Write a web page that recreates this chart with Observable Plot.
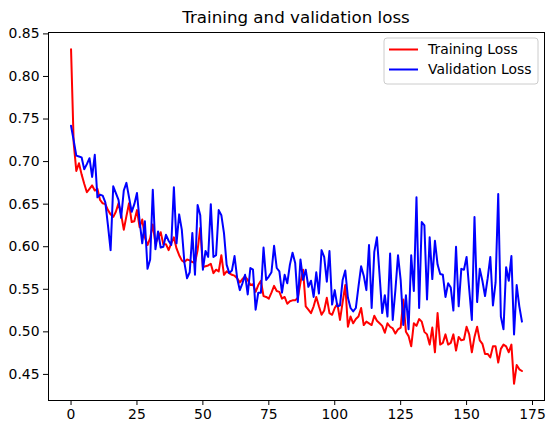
<!DOCTYPE html>
<html><head><meta charset="utf-8">
<script src="https://cdn.jsdelivr.net/npm/d3@7"></script>
<script src="https://cdn.jsdelivr.net/npm/@observablehq/plot@0.6"></script>
<style>body{margin:0;background:#fff} svg{display:block}</style>
</head><body><div id="chart"></div>
<script>
const title = "Training and validation loss";
const seriesNames = ["Training Loss", "Validation Loss"];
const seriesColors = ["red", "blue"];
const trainLoss = [
0.832,0.722,0.689,0.698,0.685,0.674,0.664,0.668,0.672,0.666,
0.668,0.655,0.651,0.650,0.643,0.638,0.635,0.641,0.651,0.638,
0.620,0.636,0.651,0.629,0.630,0.643,0.623,0.632,0.611,0.602,
0.610,0.626,0.604,0.610,0.617,0.603,0.603,0.596,0.604,0.611,
0.598,0.590,0.584,0.582,0.585,0.584,0.582,0.581,0.596,0.622,
0.576,0.577,0.578,0.580,0.569,0.573,0.571,0.590,0.567,0.571,
0.569,0.567,0.566,0.563,0.558,0.562,0.565,0.561,0.555,0.556,
0.547,0.555,0.560,0.542,0.541,0.539,0.546,0.554,0.548,0.547,
0.539,0.541,0.533,0.536,0.537,0.537,0.540,0.558,0.573,0.530,
0.526,0.522,0.530,0.541,0.530,0.520,0.525,0.540,0.522,0.520,
0.528,0.533,0.514,0.535,0.555,0.506,0.518,0.510,0.515,0.518,
0.528,0.508,0.512,0.510,0.508,0.519,0.513,0.510,0.507,0.499,
0.510,0.506,0.504,0.498,0.503,0.505,0.538,0.500,0.495,0.483,
0.510,0.507,0.515,0.512,0.500,0.497,0.485,0.505,0.476,0.522,
0.485,0.487,0.497,0.485,0.487,0.497,0.478,0.494,0.490,0.491,
0.506,0.497,0.476,0.494,0.506,0.490,0.486,0.474,0.474,0.470,
0.483,0.483,0.464,0.480,0.485,0.483,0.476,0.485,0.439,0.461,
0.456,0.454];
const valLoss = [
0.742,0.725,0.707,0.706,0.705,0.691,0.697,0.704,0.682,0.708,
0.658,0.661,0.660,0.652,0.625,0.596,0.671,0.663,0.655,0.634,
0.666,0.675,0.658,0.641,0.650,0.663,0.630,0.604,0.630,0.574,
0.585,0.667,0.597,0.618,0.599,0.600,0.614,0.607,0.602,0.670,
0.604,0.638,0.620,0.581,0.563,0.570,0.616,0.567,0.649,0.637,
0.573,0.595,0.588,0.650,0.588,0.590,0.643,0.637,0.616,0.579,
0.569,0.572,0.589,0.563,0.549,0.557,0.567,0.544,0.575,0.573,
0.526,0.546,0.546,0.599,0.561,0.565,0.570,0.601,0.575,0.571,
0.546,0.567,0.557,0.579,0.593,0.581,0.535,0.585,0.561,0.573,
0.553,0.560,0.541,0.570,0.545,0.596,0.588,0.559,0.595,0.532,
0.549,0.530,0.531,0.561,0.572,0.540,0.528,0.524,0.528,0.553,
0.577,0.566,0.549,0.602,0.528,0.594,0.611,0.567,0.522,0.543,
0.518,0.592,0.514,0.549,0.590,0.561,0.508,0.543,0.503,0.590,
0.548,0.658,0.528,0.629,0.625,0.538,0.611,0.562,0.607,0.579,
0.568,0.567,0.541,0.557,0.552,0.525,0.600,0.530,0.574,0.573,
0.588,0.550,0.514,0.635,0.535,0.574,0.560,0.542,0.563,0.588,
0.531,0.558,0.662,0.518,0.503,0.576,0.560,0.589,0.497,0.555,
0.530,0.512];
const xTicks = [0, 25, 50, 75, 100, 125, 150, 175];
const yTicks = [0.45, 0.50, 0.55, 0.60, 0.65, 0.70, 0.75, 0.80, 0.85];

const epochs = d3.range(trainLoss.length);
const rows = [];
seriesNames.forEach((name, s) => {
  const vals = s === 0 ? trainLoss : valLoss;
  epochs.forEach(i => rows.push({epoch: i, loss: vals[i], series: name}));
});
const xmax = epochs.length - 1;
const xpad = xmax * 0.05;
const all = trainLoss.concat(valLoss);
const ymin = d3.min(all), ymax = d3.max(all);
const ypad = (ymax - ymin) * 0.05;

const W = 554, H = 433, mL = 48, mR = 10, mT = 32, mB = 33;
const font = "'DejaVu Sans', sans-serif";

const plot = Plot.plot({
  width: W, height: H,
  marginLeft: mL, marginRight: mR, marginTop: mT, marginBottom: mB,
  style: {fontFamily: font, fontSize: "13.9px", color: "black", background: "white"},
  x: {domain: [-xpad, xmax + xpad]},
  y: {domain: [ymin - ypad, ymax + ypad]},
  color: {domain: seriesNames, range: seriesColors},
  marks: [
    Plot.axisX({ticks: xTicks, tickSize: 5, tickPadding: 4, label: null, tickFormat: d => String(d), stroke: "black"}),
    Plot.axisY({ticks: yTicks, tickSize: 5, tickPadding: 4, label: null, tickFormat: d3.format(".2f"), stroke: "black"}),
    Plot.line(rows, {x: "epoch", y: "loss", z: "series", stroke: "series", strokeWidth: 2}),
    Plot.frame({stroke: "black", strokeWidth: 1})
  ]
});
document.getElementById("chart").appendChild(plot);

const svg = d3.select(plot);
// title
svg.append("text")
  .attr("x", (mL + W - mR) / 2).attr("y", 23)
  .attr("text-anchor", "middle")
  .attr("font-family", font).attr("font-size", "16.7px").attr("fill", "black")
  .text(title);
// legend
const lg = svg.append("g").attr("transform", "translate(384,38)");
lg.append("rect").attr("width", 154).attr("height", 46).attr("rx", 3)
  .attr("fill", "white").attr("fill-opacity", 0.8).attr("stroke", "#cccccc");
seriesNames.forEach((name, i) => {
  const y = 11.5 + i * 20;
  lg.append("line").attr("x1", 5).attr("x2", 34).attr("y1", y).attr("y2", y)
    .attr("stroke", seriesColors[i]).attr("stroke-width", 2);
  lg.append("text").attr("x", 44).attr("y", y).attr("dy", "0.35em")
    .attr("text-anchor", "start")
    .attr("font-family", font).attr("font-size", "13.9px").attr("fill", "black")
    .text(name);
});
</script>
</body></html>
